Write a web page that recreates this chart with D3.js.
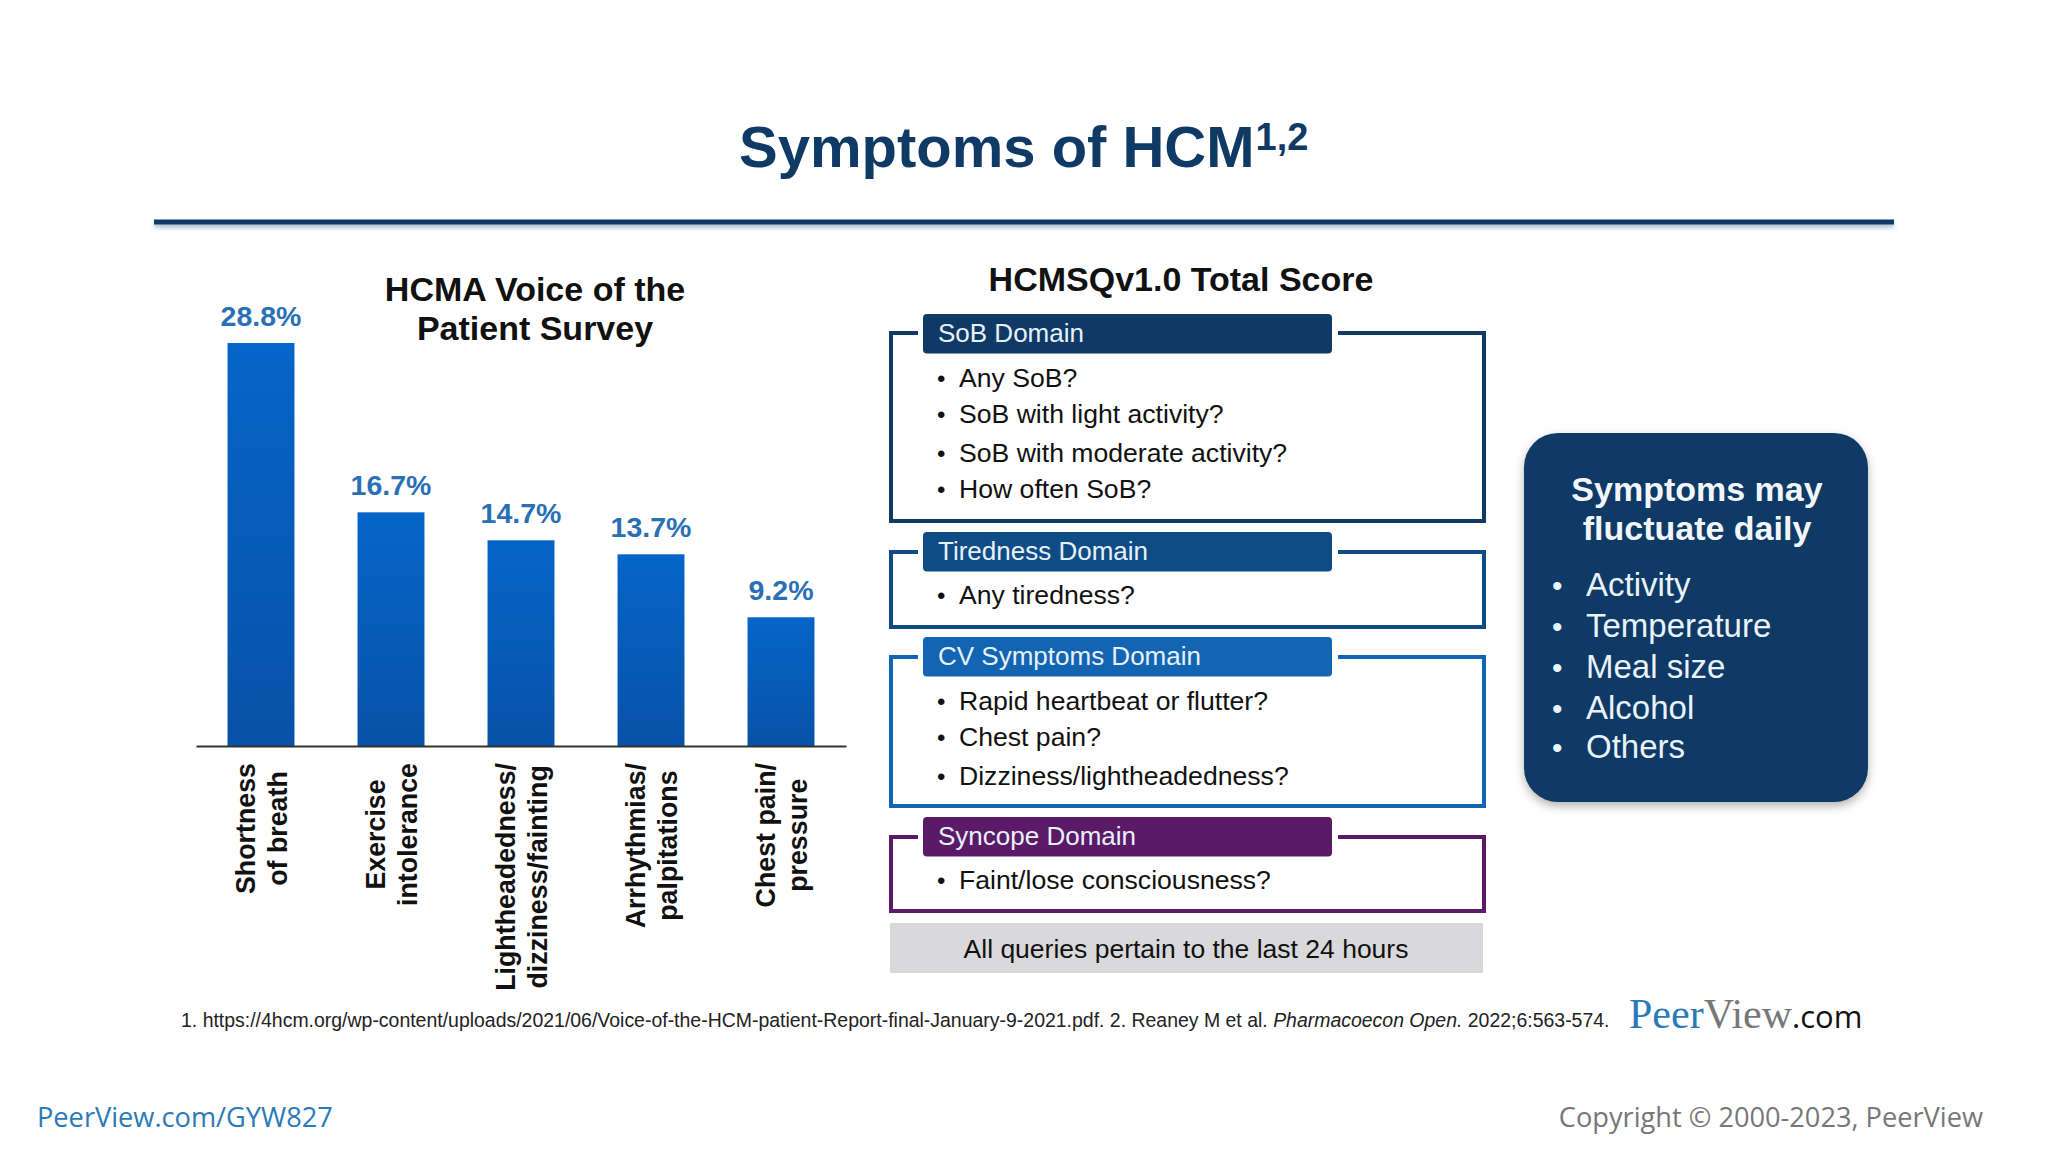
<!DOCTYPE html>
<html>
<head>
<meta charset="utf-8">
<script src="https://cdn.jsdelivr.net/npm/d3@7"></script>
<style>
  html, body { margin: 0; background: #fff; }
  svg { display: block; }
  text { font-family: "Liberation Sans", Arial, sans-serif; }
</style>
</head>
<body>
<svg id="chart" width="2048" height="1152"></svg>
<script>
const categories = [
  ['Shortness', 'of breath'],
  ['Exercise', 'intolerance'],
  ['Lightheadedness/', 'dizziness/fainting'],
  ['Arrhythmias/', 'palpitations'],
  ['Chest pain/', 'pressure'],
]
const percents = [28.8, 16.7, 14.7, 13.7, 9.2]

const domainNames = ['SoB Domain', 'Tiredness Domain', 'CV Symptoms Domain', 'Syncope Domain']
const domainItems = [
  ['Any SoB?', 'SoB with light activity?', 'SoB with moderate activity?', 'How often SoB?'],
  ['Any tiredness?'],
  ['Rapid heartbeat or flutter?', 'Chest pain?', 'Dizziness/lightheadedness?'],
  ['Faint/lose consciousness?'],
]
const factors = ['Activity', 'Temperature', 'Meal size', 'Alcohol', 'Others']

// layout, one entry per domain
const domainColors = ['#0f3a66', '#0f4c86', '#1265b3', '#5b1a68']
const headerTops = [314, 532, 637, 817]
const frameTops = [333, 552, 657, 837]
const frameBottoms = [521, 627, 806, 911]
const itemBaselines = [[387, 423, 462, 498], [604], [710, 746, 785], [889]]
const factorBaselines = [596, 637, 678, 719, 758]

const NAVY = '#0f3a66'
const svg = d3.select('#chart')

const gradient = svg.append('defs').append('linearGradient')
  .attr('id', 'barFill').attr('x1', 0).attr('y1', 0).attr('x2', 0).attr('y2', 1)
gradient.append('stop').attr('offset', '0%').attr('stop-color', '#0565c8')
gradient.append('stop').attr('offset', '100%').attr('stop-color', '#0852a8')

function label(parent, str, x, y, size, fill, weight, anchor) {
  return parent.append('text')
    .attr('x', x).attr('y', y)
    .attr('font-size', size)
    .attr('fill', fill)
    .attr('font-weight', weight || 'normal')
    .attr('text-anchor', anchor || 'start')
    .text(str)
}

// Header
const title = label(svg, 'Symptoms of HCM', 739, 167, 58, NAVY, 'bold')
title.append('tspan').attr('font-size', 38).attr('dy', -17).attr('dx', 1).text('1,2')

svg.append('line')
  .attr('x1', 154).attr('x2', 1894).attr('y1', 222).attr('y2', 222)
  .attr('stroke', NAVY).attr('stroke-width', 5)
  .style('filter', 'drop-shadow(0 3px 2px rgba(15,58,102,0.35))')

// Bar chart
const x = d3.scaleBand()
  .domain(categories.map((d, i) => i))
  .range([196, 846])
  .paddingInner(0.485)
  .paddingOuter(0.2425)
const y = d3.scaleLinear().domain([0, 28.8]).range([746, 343])

svg.selectAll('rect.bar').data(percents).join('rect')
  .attr('class', 'bar')
  .attr('x', (d, i) => x(i))
  .attr('y', d => y(d))
  .attr('width', x.bandwidth())
  .attr('height', d => y(0) - y(d))
  .attr('fill', 'url(#barFill)')

svg.selectAll('text.value').data(percents).join('text')
  .attr('class', 'value')
  .attr('x', (d, i) => x(i) + x.bandwidth() / 2)
  .attr('y', d => y(d) - 17)
  .attr('text-anchor', 'middle')
  .attr('font-size', 28.5)
  .attr('font-weight', 'bold')
  .attr('fill', '#2a70b5')
  .text(d => d + '%')

const axis = svg.append('g')
  .attr('transform', `translate(0,${y(0)})`)
  .call(d3.axisBottom(x).tickSize(0).tickFormat(''))
axis.select('.domain').attr('stroke', '#333').attr('stroke-width', 2)

// Rotated labels: both lines centred, longest line starts just under the axis
const LABEL_TOP = 763
categories.forEach((lines, i) => {
  const cx = x(i) + x.bandwidth() / 2
  const g = svg.append('g')
  const texts = lines.map((line, k) =>
    g.append('text')
      .attr('font-size', 26.8)
      .attr('font-weight', 'bold')
      .attr('fill', '#111')
      .attr('text-anchor', 'middle')
      .text(line))
  const longest = d3.max(texts, t => t.node().getComputedTextLength())
  texts.forEach((t, k) => {
    t.attr('transform', `translate(${cx + (k === 0 ? -6 : 26)},${LABEL_TOP + longest / 2}) rotate(-90)`)
  })
})

const surveyHead = ['HCMA Voice of the', 'Patient Survey']
surveyHead.forEach((s, i) => label(svg, s, 535, [301, 340][i], 34, '#111', 'bold', 'middle'))

// Domain boxes
label(svg, 'HCMSQv1.0 Total Score', 1181, 291, 34, '#111', 'bold', 'middle')

domainNames.forEach((name, i) => {
  const frame = d3.path()
  frame.moveTo(918, frameTops[i])
  frame.lineTo(891, frameTops[i])
  frame.lineTo(891, frameBottoms[i])
  frame.lineTo(1484, frameBottoms[i])
  frame.lineTo(1484, frameTops[i])
  frame.lineTo(1338, frameTops[i])
  svg.append('path')
    .attr('d', frame.toString())
    .attr('fill', 'none')
    .attr('stroke', domainColors[i])
    .attr('stroke-width', 4)

  svg.append('rect')
    .attr('x', 923).attr('y', headerTops[i])
    .attr('width', 409).attr('height', 39.5)
    .attr('rx', 4)
    .attr('fill', domainColors[i])
  label(svg, name, 938, headerTops[i] + 28, 26, '#e8f1fa')

  domainItems[i].forEach((item, k) => {
    label(svg, '•', 937, itemBaselines[i][k], 24, '#111')
    label(svg, item, 959, itemBaselines[i][k], 26.6, '#111')
  })
})

svg.append('rect')
  .attr('x', 890).attr('y', 923).attr('width', 593).attr('height', 50)
  .attr('fill', '#d9d9db')
label(svg, 'All queries pertain to the last 24 hours', 1186, 958, 26.5, '#111', 'normal', 'middle')

// Side panel
svg.append('rect')
  .attr('x', 1524).attr('y', 433).attr('width', 344).attr('height', 369)
  .attr('rx', 34)
  .attr('fill', NAVY)
  .style('filter', 'drop-shadow(0 4px 5px rgba(0,0,0,0.3))')
const panelHead = ['Symptoms may', 'fluctuate daily']
panelHead.forEach((s, i) => label(svg, s, 1697, [501, 540][i], 34, '#f2f6fa', 'bold', 'middle'))
factors.forEach((f, i) => {
  label(svg, '•', 1552, factorBaselines[i], 30, '#eaf2fa')
  label(svg, f, 1586, factorBaselines[i], 33, '#eaf2fa')
})

// Footer
const note = label(svg, '1. https://4hcm.org/wp-content/uploads/2021/06/Voice-of-the-HCM-patient-Report-final-January-9-2021.pdf. 2. Reaney M et al. ', 181, 1027, 19.47, '#222')
note.append('tspan').attr('font-style', 'italic').text('Pharmacoecon Open.')
note.append('tspan').text(' 2022;6:563-574.')

const logo = svg.append('text').attr('x', 1629).attr('y', 1028)
const logoSerif = '"Liberation Serif", serif'
logo.append('tspan').style('font-family', logoSerif).attr('font-size', 42).attr('fill', '#2a7ab8').text('Peer')
logo.append('tspan').style('font-family', logoSerif).attr('font-size', 42).attr('fill', '#777').text('View')
logo.append('tspan').style('font-family', '"Open Sans", sans-serif').attr('font-size', 31).attr('fill', '#111').text('.com')

label(svg, 'PeerView.com/GYW827', 37, 1127, 27.2, '#2a7ab8').style('font-family', '"Open Sans", sans-serif')
label(svg, 'Copyright © 2000-2023, PeerView', 1983, 1127, 27.2, '#777', 'normal', 'end').style('font-family', '"Open Sans", sans-serif')
</script>
</body>
</html>
